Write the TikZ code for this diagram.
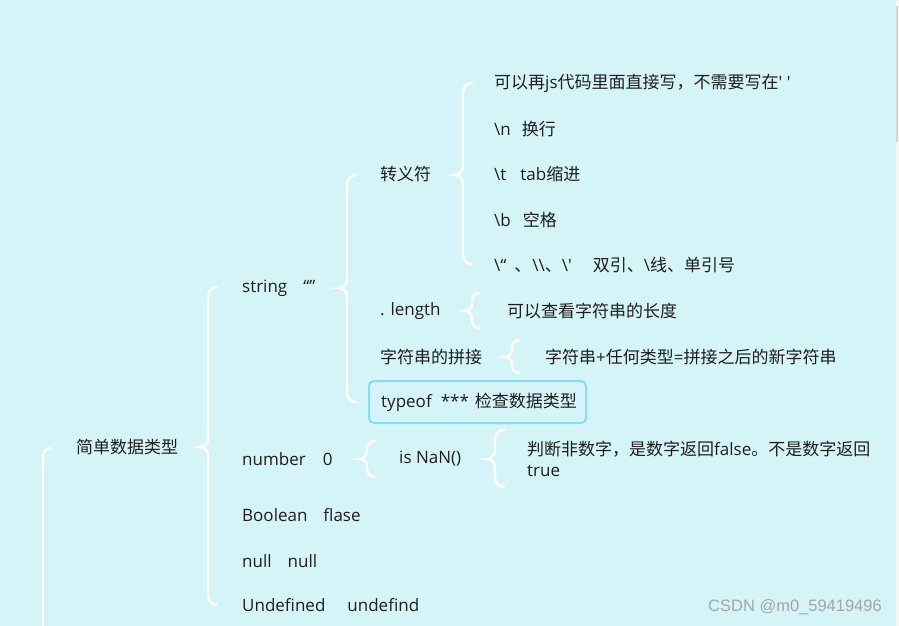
\documentclass[tikz,border=0pt]{standalone}
\usepackage{fontspec}
\setmainfont[Ligatures=TeXOff]{Noto Sans CJK SC}
\newfontfamily\lt[Ligatures=TeXOff]{Open Sans}
\newfontfamily\wmf{Liberation Sans}
\definecolor{bgc}{HTML}{D5F4F8}
\definecolor{txtc}{HTML}{1E1E1E}
\definecolor{boxc}{HTML}{88DAF6}
\definecolor{wmc}{HTML}{A3A7A9}
\definecolor{trackc}{HTML}{F6F6F6}
\definecolor{thumbc}{HTML}{D6D6D6}
\newcommand\mmbr[5]{% x top mid bot r
  \draw[br] (#1+#5,#2) .. controls (#1+0.448*#5,#2) and (#1,#2+0.448*#5) .. (#1,#2+#5)
    -- (#1,#3-#5) .. controls (#1,#3-0.3*#5) and (#1-0.5*#5,#3) .. (#1-#5,#3)
    .. controls (#1-0.5*#5,#3) and (#1,#3+0.3*#5) .. (#1,#3+#5)
    -- (#1,#4-#5) .. controls (#1,#4-0.448*#5) and (#1+0.448*#5,#4) .. (#1+#5,#4);}
\newcommand\bs{\textbackslash}
\begin{document}
\begin{tikzpicture}[x=1pt,y=-1pt,
  txt/.style={anchor=west,inner sep=0pt,text=txtc,font=\fontsize{17}{21}\selectfont},
  br/.style={draw=white,line width=2.4pt,line cap=round},
  selbox/.style={draw=boxc,line width=2pt,rounded corners=5pt}]
\fill[bgc] (0,0) rectangle (899,626);
\useasboundingbox (0,0) rectangle (899,626);
% scrollbar
\fill[trackc] (896,0) rectangle (899,626);
\fill[thumbc] (896,6) rectangle (898.3,142);
% braces
\draw[br] (51,448) .. controls (47.4,448) and (43,451.6) .. (43,456) -- (43,632);
\mmbr{208}{287}{447}{605}{9}
\mmbr{347}{175}{288}{402}{9}
\mmbr{463}{83}{175}{264}{9}
\mmbr{472}{293}{311}{328}{7.5}
\mmbr{512}{340}{357}{373}{7.5}
\mmbr{367}{441}{459}{477}{8}
\mmbr{495}{430}{459}{487}{9}
% nodes
\node[txt] (root) at (76,447) {简单数据类型};
\node[txt] (str) at (242,288) {{\lt string\hspace{16pt}“”}};
\node[txt] (esc) at (380,174) {转义符};
\node[txt] (e1) at (494,83) {可以再{\lt js}代码里面直接写，不需要写在{\lt' '}};
\node[txt] (e2) at (494,129) {{\lt\bs n}\hspace{11pt}换行};
\node[txt] (e3) at (494,174) {{\lt\bs t\hspace{14pt}tab}缩进};
\node[txt] (e4) at (494,220) {{\lt\bs b}\hspace{12pt}空格};
\node[txt] (e5) at (494,265) {{\lt\bs“}\hspace{8pt}、\hspace{1pt}{\lt\bs\bs}、{\lt\bs'}\hspace{21pt}双引、{\lt\bs}线、单引号};
\node[txt] (len) at (380,311) {{\lt. length}};
\node[txt] (lend) at (507,311) {可以查看字符串的长度};
\node[txt] (cat) at (380,357) {字符串的拼接};
\node[txt] (catd) at (545,357) {字符串{\lt+}任何类型{\lt=}拼接之后的新字符串};
\draw[selbox] (369,381) rectangle (586,423);
\node[txt] (typ) at (381,402) {{\lt typeof\hspace{9pt}***}\hspace{6pt}检查数据类型};
\node[txt] (num) at (242,459) {{\lt number\hspace{17pt}0}};
\node[txt] (nan) at (399,459) {{\lt is NaN()}};
\node[txt,align=left] (nand) at (527,459) {判断非数字，是数字返回{\lt false}。不是数字返回\\{\lt true}};
\node[txt] (bool) at (242,515) {{\lt Boolean\hspace{16pt}flase}};
\node[txt] (nul) at (242,561) {{\lt null\hspace{16pt}null}};
\node[txt] (und) at (242,605) {{\lt Undefined\hspace{22pt}undefind}};
\node[anchor=west,inner sep=0pt,text=wmc,font=\wmf\fontsize{16.5}{19}\selectfont] (wm) at (708,607) {CSDN @m0\_59419496};
\end{tikzpicture}
\end{document}
